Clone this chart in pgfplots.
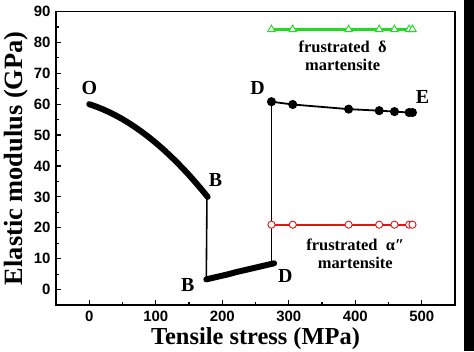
\documentclass[border=0pt]{standalone}
\usepackage{fontspec}
\setmainfont{Liberation Serif}
\setsansfont{Liberation Sans}
\usepackage{pgfplots}
\pgfplotsset{compat=1.18}
\definecolor{mygreen}{RGB}{30,220,30}
\definecolor{myred}{RGB}{225,20,20}
\begin{document}
\begin{tikzpicture}
\begin{axis}[
  name=ax,
  scale only axis,
  width=399bp, height=293.5bp,
  xmin=-50, xmax=550, ymin=-5, ymax=90,
  xtick={0,100,200,300,400,500},
  ytick={0,10,20,30,40,50,60,70,80,90},
  minor x tick num=1, minor y tick num=1,
  tick align=inside,
  xtick pos=lower, ytick pos=left,
  major tick length=5bp, minor tick length=3bp,
  axis line style={line width=1.6bp},
  every tick/.style={black, line width=1.2bp},
  /pgf/number format/assume math mode=true,
  ticklabel style={font=\fontsize{15}{15}\selectfont\sffamily\bfseries},
  xticklabel style={yshift=-3bp},
  yticklabel style={xshift=-2bp},
  xlabel={\fontsize{24.5}{24}\selectfont\bfseries Tensile stress (MPa)},
  ylabel={\fontsize{26.5}{26}\selectfont\bfseries Elastic modulus (GPa)},
  xlabel style={yshift=1bp},
  ylabel style={yshift=-1bp},
  clip=false,
]
% O-B curve
\addplot[black, line width=6bp, line cap=round] coordinates {
(0,60) (10,59.25) (20,58.39) (30,57.42) (40,56.34) (50,55.15) (60,53.84)
(70,52.42) (80,50.89) (90,49.25) (100,47.5) (110,45.64) (120,43.66)
(130,41.57) (140,39.38) (150,37.07) (160,34.64) (170,32.11) (178,30.0)};
% B-B vertical
\addplot[black, line width=1.6bp] coordinates {(177,30) (176,3.3)};
% B-D curve
\addplot[black, line width=6bp, line cap=round] coordinates {
(176,3.3) (190,4.0) (200,4.5) (210,5.0) (220,5.6) (230,6.1) (240,6.6)
(250,7.1) (260,7.6) (270,8.1) (278,8.5)};
% D-D vertical
\addplot[black, line width=1.6bp] coordinates {(274,8.5) (274,60.8)};
% D-E
\addplot[black, line width=1.8bp, mark=*, mark size=3.6bp] coordinates {
(274,60.8) (306,59.9) (390,58.4) (436,57.9) (459,57.6) (481,57.3) (486,57.3)};
% frustrated delta
\addplot[mygreen, line width=2.2bp, mark=triangle*, mark size=4.3bp,
  mark options={fill=white, line width=0.9bp}] coordinates {
(274,84.2) (306,84.2) (390,84.2) (436,84.2) (459,84.2) (481,84.2) (486,84.2)};
% frustrated alpha''
\addplot[myred, line width=2.2bp, mark=*, mark size=3.6bp,
  mark options={fill=white, line width=0.9bp}] coordinates {
(274,21) (306,21) (390,21) (436,21) (459,21) (481,21) (486,21)};
\node[font=\fontsize{20}{20}\selectfont\bfseries] at (axis cs:0,65.2) {O};
\node[font=\fontsize{20}{20}\selectfont\bfseries] at (axis cs:190,35.6) {B};
\node[font=\fontsize{20}{20}\selectfont\bfseries] at (axis cs:148,1.4) {B};
\node[font=\fontsize{20}{20}\selectfont\bfseries] at (axis cs:253,65.2) {D};
\node[font=\fontsize{20}{20}\selectfont\bfseries] at (axis cs:295,4.3) {D};
\node[font=\fontsize{20}{20}\selectfont\bfseries] at (axis cs:501,62.2) {E};
\node[font=\fontsize{16.5}{16.5}\selectfont\bfseries, align=center, inner sep=0pt] at (axis cs:381,75.6) {frustrated~~δ\\[1bp]martensite};
\node[font=\fontsize{16.5}{16.5}\selectfont\bfseries, align=center, inner sep=0pt] at (axis cs:400,11.6) {frustrated~~α″\\[1bp]martensite};
\end{axis}
\fill[black] ([shift={(9bp,-46bp)}]ax.south east) rectangle ([shift={(19bp,11.5bp)}]ax.north east);
\pgfresetboundingbox
\path ([shift={(-56bp,-46bp)}]ax.south west) rectangle ([shift={(19bp,11.5bp)}]ax.north east);
\end{tikzpicture}
\end{document}
